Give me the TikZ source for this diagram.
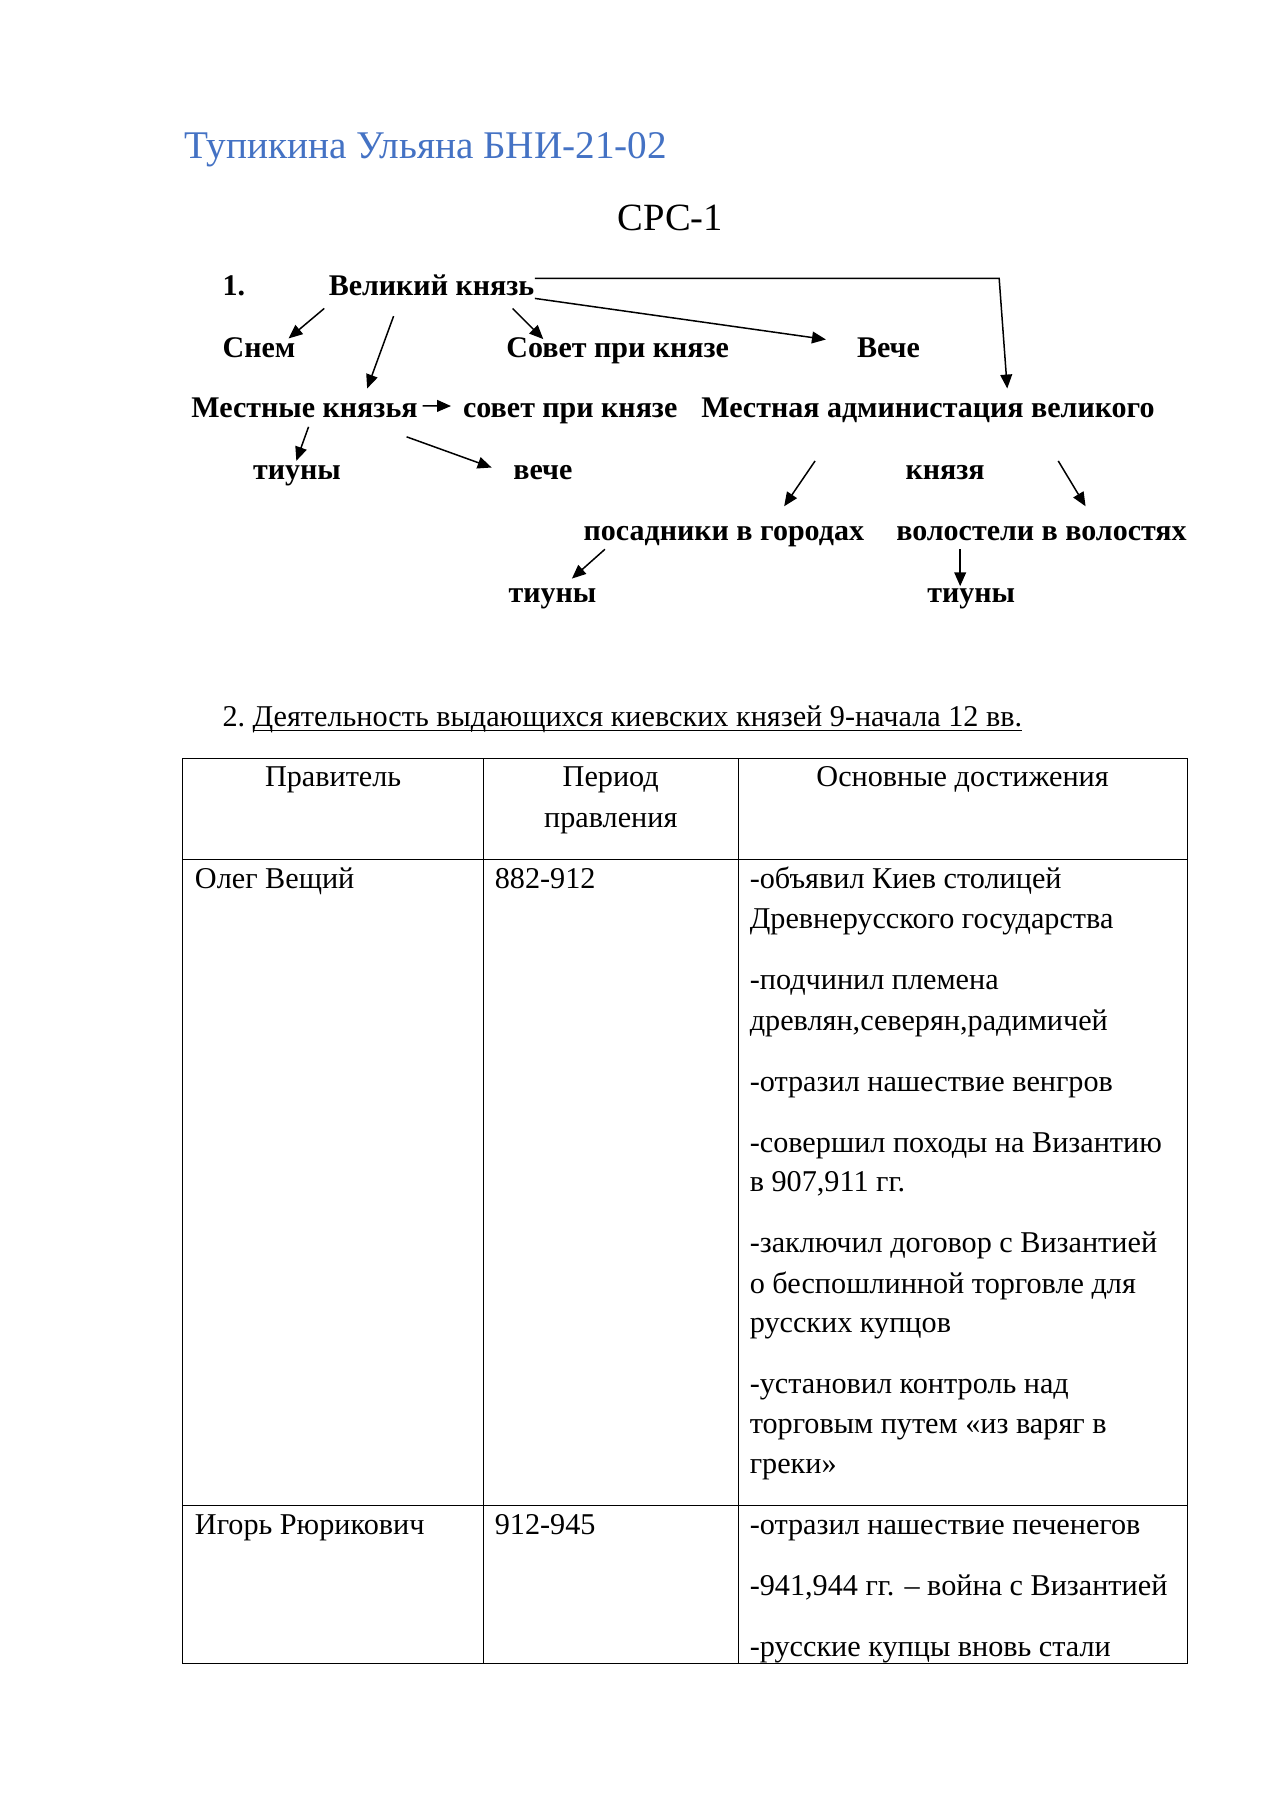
\documentclass[tikz,border=0pt]{standalone}
\usepackage{fontspec}
\setmainfont{Liberation Serif}
\usetikzlibrary{arrows.meta}
\definecolor{titleblue}{HTML}{4472C4}
\begin{document}
\begin{tikzpicture}[x=0.18919mm,y=-0.18919mm,
  every node/.style={inner sep=0pt,outer sep=0pt},
  lbl/.style={anchor=base west,font=\fontsize{14pt}{16pt}\selectfont\bfseries},
  cell/.style={anchor=base west,font=\fontsize{14.1pt}{16pt}\selectfont},
  head/.style={anchor=base,font=\fontsize{14.1pt}{16pt}\selectfont},
  arr/.style={line width=0.7pt,-{Triangle[length=6.5pt,width=5.5pt]}},
  grid/.style={line width=0.6pt}]
\fill[white] (0,0) rectangle (1110,1570);
\useasboundingbox (0,0) rectangle (1110,1570);

% title
\node[anchor=base west,font=\fontsize{18.3pt}{20pt}\selectfont,text=titleblue] (title) at (160,137) {Тупикина Ульяна БНИ-21-02};
\node[anchor=base,font=\fontsize{18pt}{20pt}\selectfont] (srs) at (581,199.5) {СРС-1};

% diagram nodes
\node[lbl] (n1) at (193,256) {1.};
\node[lbl] (vk) at (285,256) {Великий князь};
\node[lbl] (snem) at (193,309.5) {Снем};
\node[lbl] (sovet1) at (439,309.5) {Совет при князе};
\node[lbl] (veche1) at (743,309.5) {Вече};
\node[lbl] (mk) at (166,362) {Местные князья};
\node[lbl] (sovet2) at (401.5,362) {совет при князе};
\node[lbl] (ma) at (608,362) {Местная администация великого};
\node[lbl] (tiuny1) at (219.5,415.5) {тиуны};
\node[lbl] (veche2) at (445,415.5) {вече};
\node[lbl] (knyazya) at (785,415.5) {князя};
\node[lbl] (pos) at (506,468.5) {посадники в городах};
\node[lbl] (vol) at (777,468.5) {волостели в волостях};
\node[lbl] (tiuny2) at (441,522) {тиуны};
\node[lbl] (tiuny3) at (804,522) {тиуны};

% diagram arrows
\draw[arr] ([shift={(-3.9,11.4)}]vk.base west) -- ([shift={(57.2,-16.1)}]snem.base west);
\draw[arr] ([shift={(56.2,18.1)}]vk.base west) -- ([shift={(152.3,-25.2)}]mk.base west);
\draw[arr] ([shift={(159.4,11.4)}]vk.base west) -- ([shift={(32,-15.5)}]sovet1.base west);
\draw[arr] ([shift={(178.7,2.7)}]vk.base west) -- ([shift={(-27,-15.2)}]veche1.base west);
\coordinate (c5) at (866.2,241.4);
\draw[arr] ([shift={(178.7,-14.6)}]vk.base west) -- (c5) -- ([shift={(265.2,-25.2)}]ma.base west);
\draw[arr] ([shift={(200.4,-10.2)}]mk.base west) -- ([shift={(-10.5,-10)}]sovet2.base west);
\draw[arr] ([shift={(101.5,8)}]mk.base west) -- ([shift={(37.4,-16)}]tiuny1.base west);
\draw[arr] ([shift={(186.5,16.7)}]mk.base west) -- ([shift={(-18.8,-10.2)}]veche2.base west);
\draw[arr] ([shift={(98.6,37.6)}]ma.base west) -- ([shift={(173.8,-29.6)}]pos.base west);
\draw[arr] ([shift={(309.4,37.6)}]ma.base west) -- ([shift={(164.1,-29.6)}]vol.base west);
\draw[arr] ([shift={(18.4,7.7)}]pos.base west) -- ([shift={(54.8,-20.4)}]tiuny2.base west);
\draw[arr] ([shift={(55.4,7.7)}]vol.base west) -- ([shift={(28.4,-13.8)}]tiuny3.base west);

% section 2 heading
\node[cell] (n2) at (193,630) {2.};
\node[cell] (h2) at (219,630) {Деятельность выдающихся киевских князей 9-начала 12 вв.};
\draw[line width=0.6pt] ([shift={(0,3)}]h2.base west) -- ([shift={(0,3)}]h2.base east);

% table grid
\draw[grid] (158.2,657.7) rectangle (1029.3,1442);
\draw[grid] (419.4,657.7) -- (419.4,1442);
\draw[grid] (640.5,657.7) -- (640.5,1442);
\draw[grid] (158.2,745.3) -- (1029.3,745.3);
\draw[grid] (158.2,1305) -- (1029.3,1305);

% header
\node[head] (th1) at (288.8,682) {Правитель};
\node[head] (th2a) at (529.5,682) {Период};
\node[head] (th2b) at (529.5,717) {правления};
\node[head] (th3) at (834.5,682) {Основные достижения};

% row 1
\node[cell] (r1a) at (169,770) {Олег Вещий};
\node[cell] (r1b) at (429,770) {882-912};
\node[cell] (r1c1) at (650,770) {-объявил Киев столицей};
\node[cell] (r1c2) at (650,805) {Древнерусского государства};
\node[cell] (r1c3) at (650,858) {-подчинил племена};
\node[cell] (r1c4) at (650,893) {древлян,северян,радимичей};
\node[cell] (r1c5) at (650,946) {-отразил нашествие венгров};
\node[cell] (r1c6) at (650,999) {-совершил походы на Византию};
\node[cell] (r1c7) at (650,1033) {в 907,911 гг.};
\node[cell] (r1c8) at (650,1086) {-заключил договор с Византией};
\node[cell] (r1c9) at (650,1121) {о беспошлинной торговле для};
\node[cell] (r1c10) at (650,1155) {русских купцов};
\node[cell] (r1c11) at (650,1208) {-установил контроль над};
\node[cell] (r1c12) at (650,1243) {торговым путем «из варяг в};
\node[cell] (r1c13) at (650,1277) {греки»};

% row 2
\node[cell] (r2a) at (169,1330) {Игорь Рюрикович};
\node[cell] (r2b) at (429,1330) {912-945};
\node[cell] (r2c1) at (650,1330) {-отразил нашествие печенегов};
\node[cell] (r2c2) at (650,1383) {-941,944 гг. – война с Византией};
\node[cell] (r2c3) at (650,1436) {-русские купцы вновь стали};
\end{tikzpicture}
\end{document}
